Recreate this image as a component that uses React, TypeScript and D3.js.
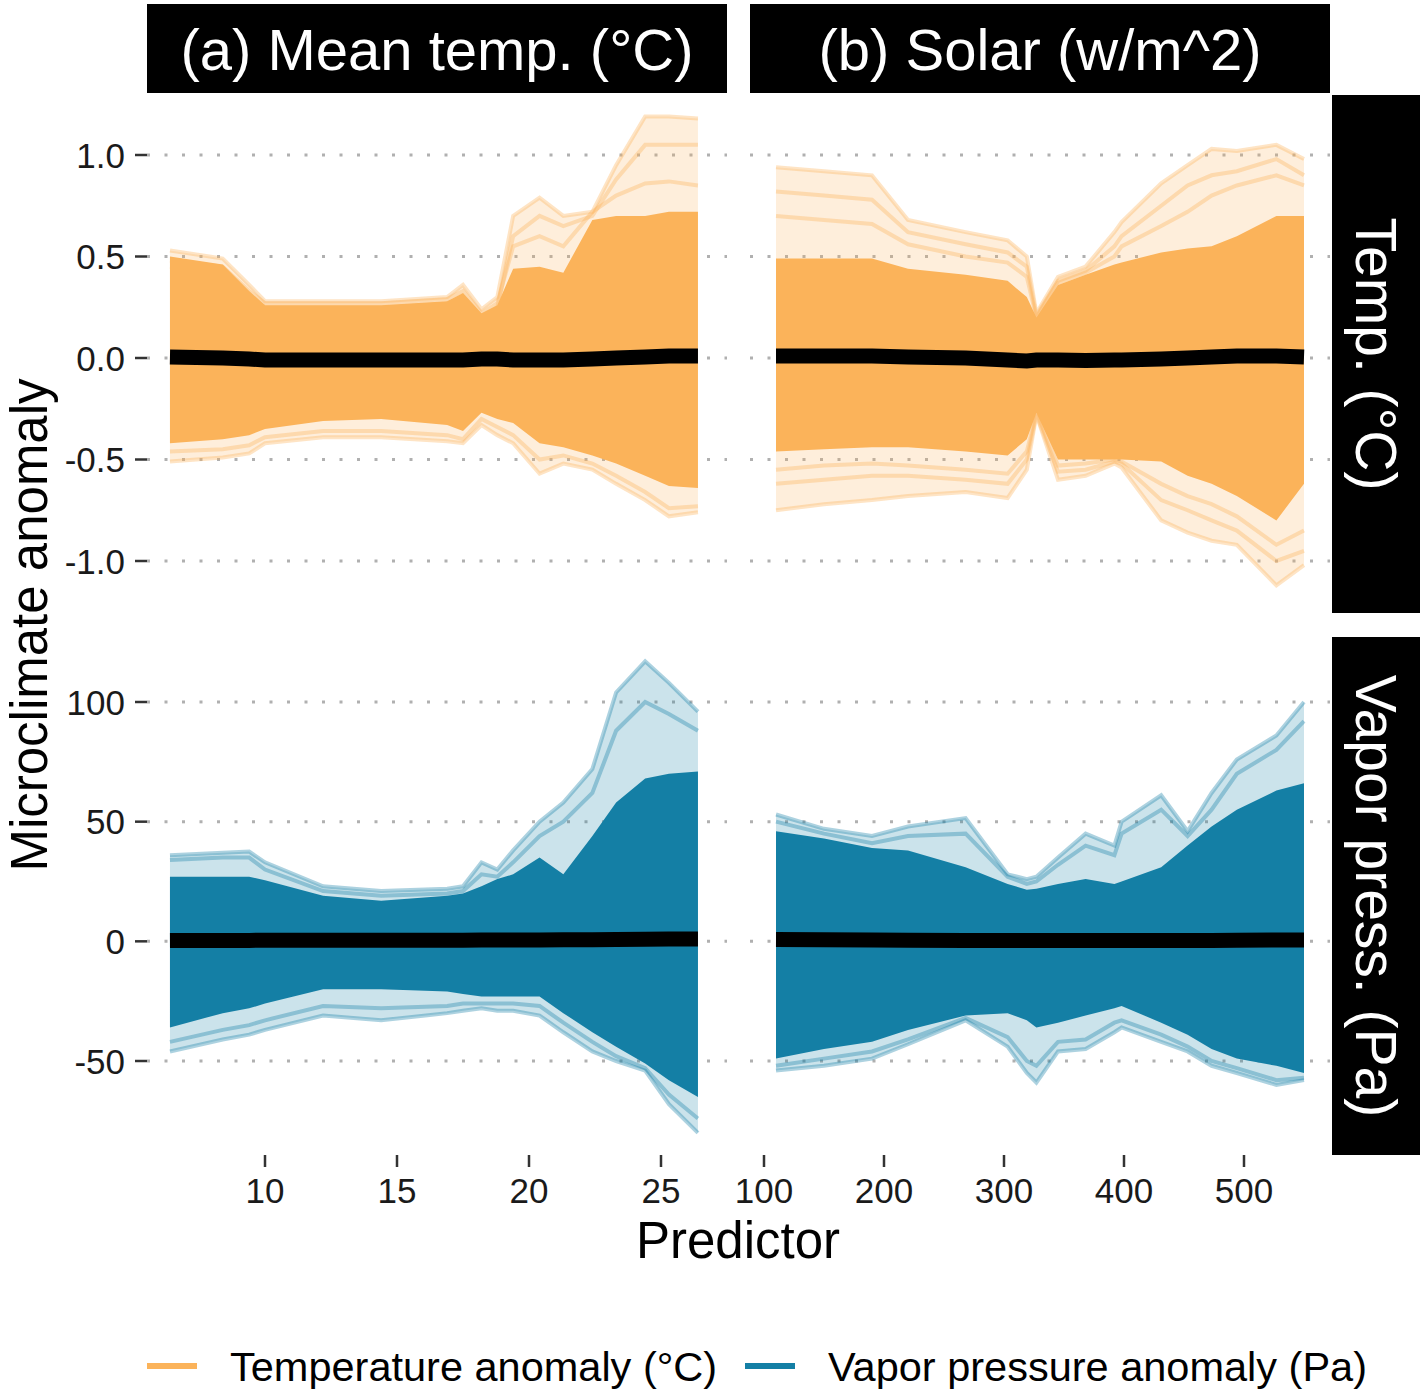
import React, { useEffect, useRef } from "react";
import * as d3 from "d3";

// predictor grids (a: mean temp, b: solar)
const xA = [6.4, 8.4, 9.4, 10.0, 12.2, 14.4, 16.9, 17.5, 18.2, 18.8, 19.4, 20.4, 21.3, 22.4, 23.3, 24.4, 25.3, 26.4];
const xB = [110, 150, 190, 220, 268, 303, 319, 327, 345, 368, 392, 398, 431, 453, 473, 494, 527, 550];

// temperature anomaly, panel a
const tempA_mean = [0.005, 0.0, -0.005, -0.01, -0.01, -0.01, -0.01, -0.01, -0.005, -0.005, -0.01, -0.01, -0.01, -0.005, 0.0, 0.005, 0.01, 0.01];
const tempA_coreHi = [0.5, 0.46, 0.33, 0.26, 0.26, 0.26, 0.28, 0.32, 0.22, 0.26, 0.44, 0.45, 0.42, 0.68, 0.7, 0.7, 0.72, 0.72];
const tempA_coreLo = [-0.42, -0.4, -0.38, -0.35, -0.31, -0.3, -0.33, -0.36, -0.27, -0.3, -0.32, -0.42, -0.44, -0.48, -0.52, -0.58, -0.63, -0.64];
const tempA_outHi = [0.53, 0.49, 0.36, 0.28, 0.28, 0.28, 0.3, 0.36, 0.24, 0.3, 0.7, 0.79, 0.7, 0.72, 0.95, 1.19, 1.19, 1.18];
const tempA_outLo = [-0.51, -0.49, -0.47, -0.42, -0.39, -0.39, -0.41, -0.42, -0.33, -0.38, -0.42, -0.57, -0.52, -0.55, -0.62, -0.7, -0.78, -0.76];
const tempA_line1 = [0.45, 0.42, 0.3, 0.25, 0.25, 0.25, 0.27, 0.3, 0.2, 0.25, 0.6, 0.7, 0.65, 0.7, 0.88, 1.05, 1.05, 1.05];
const tempA_line2 = [0.48, 0.45, 0.33, 0.27, 0.27, 0.27, 0.29, 0.33, 0.22, 0.27, 0.55, 0.6, 0.55, 0.72, 0.8, 0.86, 0.87, 0.85];
const tempA_line3 = [-0.46, -0.45, -0.43, -0.39, -0.36, -0.36, -0.38, -0.4, -0.3, -0.34, -0.38, -0.5, -0.48, -0.52, -0.58, -0.66, -0.74, -0.73];

// vapor pressure anomaly, panel a
const vapA_mean = [0.3, 0.4, 0.4, 0.5, 0.5, 0.5, 0.5, 0.5, 0.6, 0.6, 0.6, 0.6, 0.7, 0.7, 0.8, 0.9, 1.0, 1.0];
const vapA_coreHi = [27, 27, 27, 25.5, 19, 17, 19, 20, 23, 26, 28, 35, 28, 44, 58, 68, 70, 71];
const vapA_coreLo = [-36, -30, -28, -26, -20, -20, -21, -22, -23, -23, -23, -23, -30, -38, -44, -51, -58, -65];
const vapA_outHi = [36, 37, 37.5, 33, 23, 21, 22, 23, 33, 30, 38, 50, 58, 72, 104, 117, 108, 96];
const vapA_outLo = [-46, -41, -39, -37, -31, -33, -30, -29, -28, -29, -29, -31, -38, -46, -50, -54, -68, -80];
const vapA_line1 = [34, 35, 35, 30, 21, 19, 20, 21, 28, 27, 33, 44, 50, 62, 88, 100, 95, 88];
const vapA_line2 = [-42, -37, -35, -33, -27, -28, -27, -26, -26, -26, -26, -27, -34, -42, -48, -53, -64, -74];

// temperature anomaly, panel b
const tempB_mean = [0.01, 0.01, 0.01, 0.005, 0.0, -0.01, -0.015, -0.01, -0.01, -0.012, -0.01, -0.01, -0.005, 0.0, 0.005, 0.01, 0.01, 0.005];
const tempB_coreHi = [0.49, 0.49, 0.49, 0.44, 0.41, 0.38, 0.3, 0.2, 0.36, 0.41, 0.46, 0.47, 0.52, 0.54, 0.55, 0.6, 0.7, 0.7];
const tempB_coreLo = [-0.46, -0.45, -0.44, -0.44, -0.46, -0.48, -0.4, -0.27, -0.5, -0.5, -0.5, -0.5, -0.51, -0.58, -0.62, -0.68, -0.8, -0.62];
const tempB_outHi = [0.94, 0.92, 0.9, 0.68, 0.62, 0.58, 0.5, 0.22, 0.4, 0.45, 0.62, 0.67, 0.86, 0.95, 1.03, 1.02, 1.05, 0.98];
const tempB_outLo = [-0.75, -0.72, -0.7, -0.68, -0.66, -0.69, -0.55, -0.28, -0.6, -0.58, -0.52, -0.54, -0.8, -0.86, -0.9, -0.92, -1.12, -1.02];
const tempB_line1 = [0.82, 0.8, 0.78, 0.62, 0.56, 0.52, 0.45, 0.21, 0.38, 0.43, 0.55, 0.6, 0.75, 0.85, 0.9, 0.92, 0.98, 0.9];
const tempB_line2 = [0.7, 0.68, 0.66, 0.56, 0.5, 0.47, 0.4, 0.2, 0.37, 0.42, 0.5, 0.55, 0.65, 0.72, 0.8, 0.85, 0.9, 0.85];
const tempB_line3 = [-0.62, -0.6, -0.58, -0.58, -0.6, -0.62, -0.5, -0.28, -0.56, -0.55, -0.51, -0.52, -0.7, -0.75, -0.8, -0.85, -1.0, -0.95];
const tempB_line4 = [-0.55, -0.53, -0.52, -0.53, -0.55, -0.57, -0.46, -0.27, -0.53, -0.52, -0.5, -0.51, -0.62, -0.68, -0.72, -0.78, -0.92, -0.85];

// vapor pressure anomaly, panel b
const vapB_mean = [0.8, 0.7, 0.6, 0.5, 0.4, 0.4, 0.4, 0.4, 0.4, 0.4, 0.4, 0.4, 0.3, 0.3, 0.4, 0.5, 0.6, 0.6];
const vapB_coreHi = [46, 43, 39, 38, 31, 24, 21.6, 22, 24, 26, 24, 25, 31, 40, 48, 55, 63, 66];
const vapB_coreLo = [-49, -45, -42, -37, -31, -30, -33, -36, -34, -31, -28, -27, -34, -39, -45, -49, -52, -55];
const vapB_outHi = [53, 47, 44, 48, 51.5, 28, 26, 27, 35, 45, 40, 50, 61, 46, 62, 76, 86, 100];
const vapB_outLo = [-54, -52, -49, -43, -33, -44, -55, -59, -46, -45, -38, -36, -42, -46, -52, -55, -60, -58];
const vapB_line1 = [50, 45, 41, 44, 45, 27, 24, 25, 32, 40, 36, 45, 55, 44, 55, 70, 80, 92];
const vapB_line2 = [-52, -49, -46, -41, -32, -40, -50, -52, -42, -41, -34, -33, -39, -44, -50, -53, -58, -57];

const colTitles = ["(a) Mean temp. (°C)", "(b) Solar (w/m^2)"];
const rowTitles = ["Temp. (°C)", "Vapor press. (Pa)"];
const ticksXA = [10, 15, 20, 25];
const ticksXB = [100, 200, 300, 400, 500];
const ticksTemp = [1.0, 0.5, 0.0, -0.5, -1.0];
const tickTempLabels = ["1.0", "0.5", "0.0", "-0.5", "-1.0"];
const ticksVap = [100, 50, 0, -50];
const tickVapLabels = ["100", "50", "0", "-50"];
const legendLabels = ["Temperature anomaly (°C)", "Vapor pressure anomaly (Pa)"];

const ORANGE = "#FBB35A";
const BLUE = "#147FA5";
const FONT = "'Liberation Sans', Arial, sans-serif";

export default function App() {
  const ref = useRef<SVGSVGElement>(null);

  useEffect(() => {
    const svg = d3.select(ref.current);
    svg.selectAll("*").remove();

    const cols = [
      { x0: 147, x1: 727, xs: d3.scaleLinear().domain([10, 25]).range([265, 661]), grid: xA, ticks: ticksXA },
      { x0: 750, x1: 1330, xs: d3.scaleLinear().domain([100, 500]).range([764, 1244]), grid: xB, ticks: ticksXB },
    ];
    const rows = [
      { y0: 95, y1: 613, ys: d3.scaleLinear().domain([-1, 1]).range([561, 155]), ticks: ticksTemp, labels: tickTempLabels, color: ORANGE },
      { y0: 637, y1: 1155, ys: d3.scaleLinear().domain([-50, 100]).range([1061, 702]), ticks: ticksVap, labels: tickVapLabels, color: BLUE },
    ];

    const series = [
      [
        { mean: tempA_mean, hi: tempA_coreHi, lo: tempA_coreLo, oh: tempA_outHi, ol: tempA_outLo, extra: [tempA_line1, tempA_line2, tempA_line3] },
        { mean: tempB_mean, hi: tempB_coreHi, lo: tempB_coreLo, oh: tempB_outHi, ol: tempB_outLo, extra: [tempB_line1, tempB_line2, tempB_line3, tempB_line4] },
      ],
      [
        { mean: vapA_mean, hi: vapA_coreHi, lo: vapA_coreLo, oh: vapA_outHi, ol: vapA_outLo, extra: [vapA_line1, vapA_line2] },
        { mean: vapB_mean, hi: vapB_coreHi, lo: vapB_coreLo, oh: vapB_outHi, ol: vapB_outLo, extra: [vapB_line1, vapB_line2] },
      ],
    ];

    rows.forEach((row, ri) => {
      cols.forEach((col, ci) => {
        const g = svg.append("g");
        const s = series[ri][ci];
        const idx = d3.range(col.grid.length);

        // dotted gridlines
        row.ticks.forEach((t) => {
          g.append("line")
            .attr("x1", col.x0).attr("x2", col.x1)
            .attr("y1", row.ys(t)).attr("y2", row.ys(t))
            .attr("stroke", "#b0b0b0").attr("stroke-width", 3)
            .attr("stroke-dasharray", "3 14.5");
        });

        const area = (top: number[], bot: number[]) =>
          d3.area<number>()
            .x((i) => col.xs(col.grid[i]))
            .y0((i) => row.ys(bot[i]))
            .y1((i) => row.ys(top[i]));
        const line = (v: number[]) =>
          d3.line<number>()
            .x((i) => col.xs(col.grid[i]))
            .y((i) => row.ys(v[i]));

        // sparse outer lines
        g.append("path").attr("d", area(s.oh, s.ol)(idx)!)
          .attr("fill", row.color).attr("opacity", 0.22);
        [s.oh, s.ol, ...s.extra].forEach((v) => {
          g.append("path").attr("d", line(v)(idx)!)
            .attr("fill", "none").attr("stroke", row.color)
            .attr("stroke-width", 4).attr("opacity", 0.35);
        });
        // dense core
        g.append("path").attr("d", area(s.hi, s.lo)(idx)!)
          .attr("fill", row.color);
        // mean
        g.append("path").attr("d", line(s.mean)(idx)!)
          .attr("fill", "none").attr("stroke", "#000").attr("stroke-width", 15);
      });

      // y ticks
      row.ticks.forEach((t, i) => {
        svg.append("line")
          .attr("x1", 135).attr("x2", 147)
          .attr("y1", row.ys(t)).attr("y2", row.ys(t))
          .attr("stroke", "#333").attr("stroke-width", 2.5);
        svg.append("text")
          .attr("x", 125).attr("y", row.ys(t))
          .attr("text-anchor", "end").attr("dominant-baseline", "central")
          .attr("font-family", FONT).attr("font-size", 35).attr("fill", "#1a1a1a")
          .text(row.labels[i]);
      });

      // right strip
      svg.append("rect")
        .attr("x", 1332).attr("y", row.y0).attr("width", 88).attr("height", row.y1 - row.y0)
        .attr("fill", "#000");
      svg.append("text")
        .attr("transform", `translate(1376,${(row.y0 + row.y1) / 2}) rotate(90)`)
        .attr("text-anchor", "middle").attr("dominant-baseline", "central")
        .attr("font-family", FONT).attr("font-size", 57).attr("fill", "#fff")
        .text(rowTitles[ri]);
    });

    cols.forEach((col, ci) => {
      // top strip
      svg.append("rect")
        .attr("x", col.x0).attr("y", 4).attr("width", col.x1 - col.x0).attr("height", 89)
        .attr("fill", "#000");
      svg.append("text")
        .attr("x", (col.x0 + col.x1) / 2).attr("y", 49)
        .attr("text-anchor", "middle").attr("dominant-baseline", "central")
        .attr("font-family", FONT).attr("font-size", 58).attr("fill", "#fff")
        .text(colTitles[ci]);

      // x ticks
      col.ticks.forEach((t) => {
        svg.append("line")
          .attr("x1", col.xs(t)).attr("x2", col.xs(t))
          .attr("y1", 1155).attr("y2", 1167)
          .attr("stroke", "#333").attr("stroke-width", 2.5);
        svg.append("text")
          .attr("x", col.xs(t)).attr("y", 1203)
          .attr("text-anchor", "middle")
          .attr("font-family", FONT).attr("font-size", 35).attr("fill", "#1a1a1a")
          .text(String(t));
      });
    });

    // axis titles
    svg.append("text")
      .attr("x", 738).attr("y", 1258)
      .attr("text-anchor", "middle")
      .attr("font-family", FONT).attr("font-size", 51).attr("fill", "#000")
      .text("Predictor");
    svg.append("text")
      .attr("transform", "translate(29,625) rotate(-90)")
      .attr("text-anchor", "middle").attr("dominant-baseline", "central")
      .attr("font-family", FONT).attr("font-size", 51).attr("fill", "#000")
      .text("Microclimate anomaly");

    // legend
    const legend = [
      { x: 147, color: ORANGE, label: legendLabels[0] },
      { x: 745, color: BLUE, label: legendLabels[1] },
    ];
    legend.forEach((d) => {
      svg.append("line")
        .attr("x1", d.x).attr("x2", d.x + 50)
        .attr("y1", 1366).attr("y2", 1366)
        .attr("stroke", d.color).attr("stroke-width", 6);
      svg.append("text")
        .attr("x", d.x + 83).attr("y", 1366)
        .attr("dominant-baseline", "central")
        .attr("font-family", FONT).attr("font-size", 41.5).attr("fill", "#000")
        .text(d.label);
    });
  }, []);

  return (
    <svg ref={ref} width={1425} height={1394}
      style={{ position: "absolute", left: 0, top: 0, background: "#fff" }} />
  );
}
